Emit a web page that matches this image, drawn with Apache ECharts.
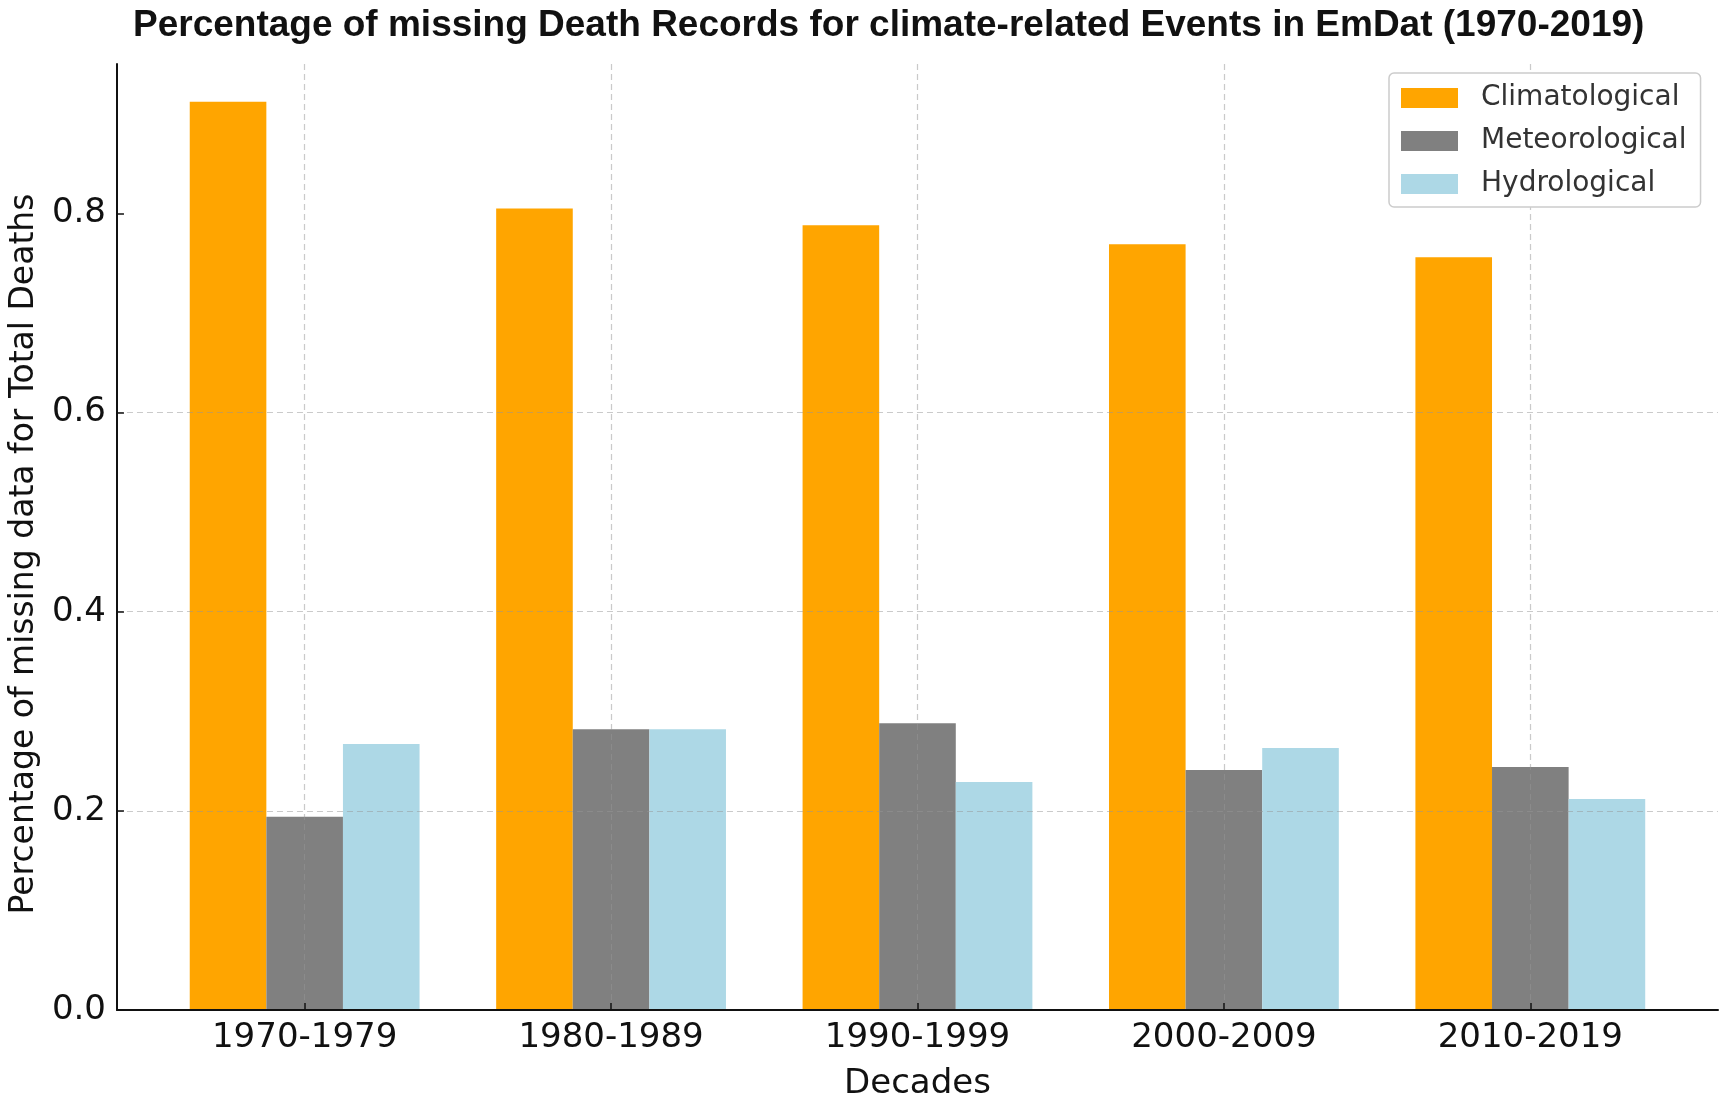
<!DOCTYPE html>
<html>
<head>
<meta charset="utf-8">
<script src="https://cdn.jsdelivr.net/npm/echarts@6/dist/echarts.min.js"></script>
<style>
  html, body { margin: 0; padding: 0; background: #fff; }
  #chart { width: 1725px; height: 1106px; }
</style>
</head>
<body>
<div id="chart"></div>
<script>
const decades = ["1970-1979", "1980-1989", "1990-1999", "2000-2009", "2010-2019"];
const climatological = [0.912, 0.805, 0.788, 0.769, 0.756];
const meteorological = [0.194, 0.282, 0.288, 0.241, 0.244];
const hydrological = [0.267, 0.282, 0.229, 0.263, 0.212];
const yTicks = [0, 0.2, 0.4, 0.6, 0.8];

const font = "DejaVu Sans";
const gridColor = "rgba(150,150,150,0.5)";
const chart = echarts.init(document.getElementById("chart"));

// bars sit on a value axis so the side margins match the original layout
function pairs(values) {
  return values.map((v, i) => [i, v]);
}
const xIdx = decades.map((d, i) => i);

function barSeries(name, values, color) {
  return {
    name: name,
    type: "bar",
    data: pairs(values),
    barWidth: "25%",
    barGap: "0%",
    itemStyle: { color: color },
  };
}

const option = {
  animation: false,
  backgroundColor: "#fff",
  title: {
    text: "Percentage of missing Death Records for climate-related Events in EmDat (1970-2019)",
    left: 128,
    top: 2,
    textStyle: {
      fontFamily: "Liberation Sans",
      fontWeight: "bold",
      fontSize: 37,
      color: "#111",
    },
  },
  legend: {
    orient: "vertical",
    left: 1389,
    top: 73,
    z: 10,
    padding: [11, 14, 9, 12],
    itemWidth: 57,
    itemHeight: 20,
    itemGap: 15,
    backgroundColor: "#fff",
    borderColor: "#cccccc",
    borderWidth: 1.5,
    borderRadius: 5,
    icon: "rect",
    textStyle: {
      fontFamily: font,
      fontSize: 28,
      color: "#333",
      padding: [0, 0, 0, 18],
    },
  },
  grid: {
    left: 116,
    right: 7,
    top: 64,
    bottom: 95,
    containLabel: false,
  },
  xAxis: {
    type: "value",
    z: 3,
    min: -0.6125,
    max: 4.6125,
    name: "Decades",
    nameLocation: "middle",
    nameGap: 57,
    nameTextStyle: { fontFamily: font, fontSize: 34, color: "#111" },
    axisLine: { show: true, onZero: false, lineStyle: { color: "#111", width: 2 } },
    axisTick: {
      show: true,
      inside: true,
      length: 7,
      customValues: xIdx,
      lineStyle: { color: "#111", width: 1.5 },
    },
    axisLabel: {
      customValues: xIdx,
      margin: 11,
      fontFamily: font,
      fontSize: 34,
      color: "#111",
      formatter: (v) => decades[Math.round(v)] || "",
    },
    splitLine: {
      show: true,
      showMinLine: true,
      showMaxLine: true,
      lineStyle: { color: gridColor, type: [6, 4], width: 1.2 },
    },
  },
  yAxis: {
    type: "value",
    z: 3,
    min: 0,
    max: 0.95,
    interval: 0.2,
    name: "Percentage of missing data for Total Deaths",
    nameLocation: "middle",
    nameGap: 74,
    nameTextStyle: {
      fontFamily: font,
      fontSize: 33,
      color: "#111",
      padding: [0, 34, 0, 0],
    },
    axisLine: { show: true, onZero: false, lineStyle: { color: "#111", width: 2 } },
    axisTick: {
      show: true,
      inside: true,
      length: 7,
      customValues: yTicks,
      lineStyle: { color: "#111", width: 1.5 },
    },
    axisLabel: {
      customValues: yTicks,
      margin: 11,
      fontFamily: font,
      fontSize: 34,
      color: "#111",
      formatter: (v) => v.toFixed(1),
    },
    splitLine: {
      show: true,
      showMinLine: false,
      showMaxLine: false,
      lineStyle: { color: gridColor, type: [6, 4], width: 1.2 },
    },
  },
  series: [
    barSeries("Climatological", climatological, "#FFA500"),
    barSeries("Meteorological", meteorological, "#808080"),
    barSeries("Hydrological", hydrological, "#ADD8E6"),
  ],
};

chart.setOption(option);
</script>
</body>
</html>
